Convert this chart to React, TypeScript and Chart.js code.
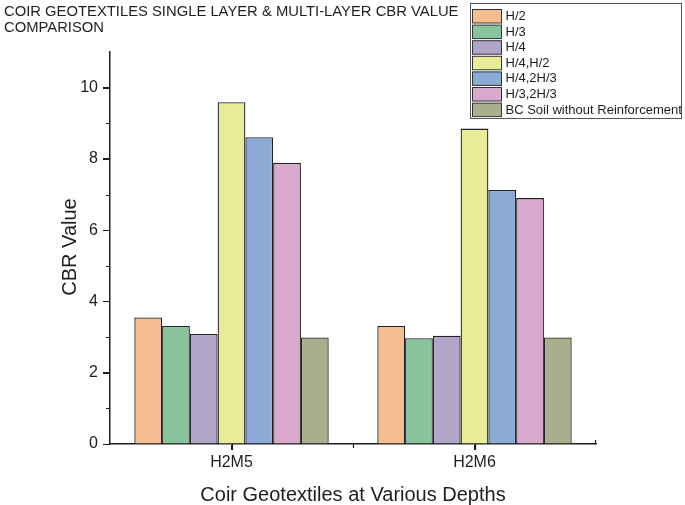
import React, { useEffect, useRef } from "react";
import { Chart, registerables } from "chart.js";

Chart.register(...registerables);

const categories = ["H2M5", "H2M6"];
const seriesNames = ["H/2", "H/3", "H/4", "H/4,H/2", "H/4,2H/3", "H/3,2H/3", "BC Soil without Reinforcement"];
const h2 = [3.55, 3.31];
const h3 = [3.31, 2.97];
const h4 = [3.09, 3.04];
const h4h2 = [9.59, 8.85];
const h42h3 = [8.61, 7.13];
const h32h3 = [7.89, 6.9];
const bcSoil = [2.99, 2.99];
const seriesColors = ["#F4BE91", "#88C399", "#B0A6C8", "#E8EB98", "#8BAAD6", "#D8A9CC", "#A8AF8C"];
const yMajorTicks = [0, 2, 4, 6, 8, 10];
const yMinorTicks = [1, 3, 5, 7, 9];
const titleLines = ["COIR GEOTEXTILES SINGLE LAYER & MULTI-LAYER CBR VALUE", "COMPARISON"];
const xTitle = "Coir Geotextiles at Various Depths";
const yTitle = "CBR Value";

const FONT = "'Liberation Sans', Arial, sans-serif";
const INK = "#1e1e1e";

const decorations = {
  id: "decorations",
  afterDraw(chart: any) {
    const { ctx, chartArea, scales } = chart;
    const x = scales.x;
    const y = scales.y;
    ctx.save();

    ctx.strokeStyle = INK;
    ctx.lineWidth = 1.2;
    ctx.beginPath();
    // major and minor ticks on the value axis
    for (const v of yMajorTicks) {
      const py = Math.round(y.getPixelForValue(v)) + 0.5;
      ctx.moveTo(chartArea.left - 7, py);
      ctx.lineTo(chartArea.left, py);
    }
    for (const v of yMinorTicks) {
      const py = Math.round(y.getPixelForValue(v)) + 0.5;
      ctx.moveTo(chartArea.left - 4, py);
      ctx.lineTo(chartArea.left, py);
    }
    // category ticks, the tick between the groups, and the axis end
    categories.forEach((_, i) => {
      const px = Math.round(x.getPixelForValue(i)) + 0.5;
      ctx.moveTo(px, chartArea.bottom);
      ctx.lineTo(px, chartArea.bottom + 6);
    });
    const mid = Math.round((x.getPixelForValue(0) + x.getPixelForValue(1)) / 2) + 0.5;
    ctx.moveTo(mid, chartArea.bottom);
    ctx.lineTo(mid, chartArea.bottom + 4);
    const rEnd = Math.round(chartArea.right) - 0.5;
    ctx.moveTo(rEnd, chartArea.bottom);
    ctx.lineTo(rEnd, chartArea.bottom - 4);
    ctx.stroke();

    // chart title
    ctx.fillStyle = INK;
    ctx.font = `14.8px ${FONT}`;
    ctx.textAlign = "left";
    ctx.textBaseline = "alphabetic";
    ctx.fillText(titleLines[0], 4, 16);
    ctx.fillText(titleLines[1], 4, 32);

    // axis titles
    ctx.font = `20px ${FONT}`;
    ctx.textAlign = "center";
    ctx.fillText(xTitle, (chartArea.left + chartArea.right) / 2, 501);
    ctx.save();
    ctx.translate(76, (chartArea.top + chartArea.bottom) / 2 - 1);
    ctx.rotate(-Math.PI / 2);
    ctx.fillText(yTitle, 0, 0);
    ctx.restore();

    // legend box
    const bx = 470.5, by = 3.5, bw = 211, bh = 115;
    ctx.fillStyle = "#ffffff";
    ctx.fillRect(bx, by, bw, bh);
    ctx.strokeStyle = "#555";
    ctx.lineWidth = 1;
    ctx.strokeRect(bx, by, bw, bh);
    ctx.font = `13px ${FONT}`;
    ctx.textAlign = "left";
    ctx.textBaseline = "middle";
    chart.data.datasets.forEach((ds: any, i: number) => {
      const ry = 9 + i * 15.6;
      ctx.fillStyle = ds.backgroundColor;
      ctx.fillRect(472.5, ry + 0.5, 29, 13.5);
      ctx.strokeStyle = "#333";
      ctx.strokeRect(472.5, ry + 0.5, 29, 13.5);
      ctx.fillStyle = INK;
      ctx.fillText(ds.label, 505.5, ry + 7.5);
    });
    ctx.restore();
  },
};

export default function App() {
  const canvasRef = useRef<HTMLCanvasElement | null>(null);

  useEffect(() => {
    document.body.style.margin = "0";
    const values = [h2, h3, h4, h4h2, h42h3, h32h3, bcSoil];
    const chart = new Chart(canvasRef.current!, {
      type: "bar",
      data: {
        labels: categories,
        datasets: values.map((data, i) => ({
          label: seriesNames[i],
          data,
          backgroundColor: seriesColors[i],
          borderColor: "#222",
          borderWidth: 1.3,
          categoryPercentage: 0.8,
          barPercentage: 1.0,
        })),
      },
      options: {
        animation: false,
        responsive: true,
        maintainAspectRatio: false,
        layout: { padding: { top: 52, right: 89, left: 0, bottom: 0 } },
        plugins: {
          legend: { display: false },
          title: { display: false },
          tooltip: { enabled: false },
        },
        scales: {
          x: {
            type: "category",
            offset: true,
            afterFit: (s: any) => {
              s.height = 61;
            },
            grid: {
              offset: false,
              drawOnChartArea: false,
              drawTicks: true,
              tickLength: 6,
              color: INK,
            },
            border: { color: INK, width: 1.5 },
            ticks: { color: INK, font: { family: FONT, size: 16 }, padding: 3 },
          },
          y: {
            type: "linear",
            min: 0,
            max: 11,
            afterFit: (s: any) => {
              s.width = 110;
            },
            afterBuildTicks: (s: any) => {
              s.ticks = yMajorTicks.map((v) => ({ value: v }));
            },
            grid: {
              drawOnChartArea: false,
              drawTicks: true,
              tickLength: 7,
              color: INK,
            },
            border: { color: INK, width: 1.5 },
            ticks: { color: INK, font: { family: FONT, size: 16 }, padding: 5 },
          },
        },
      },
      plugins: [decorations],
    });
    return () => chart.destroy();
  }, []);

  return (
    <div style={{ position: "absolute", left: 0, top: 0, width: 685, height: 505, background: "#fff" }}>
      <canvas ref={canvasRef} />
    </div>
  );
}
